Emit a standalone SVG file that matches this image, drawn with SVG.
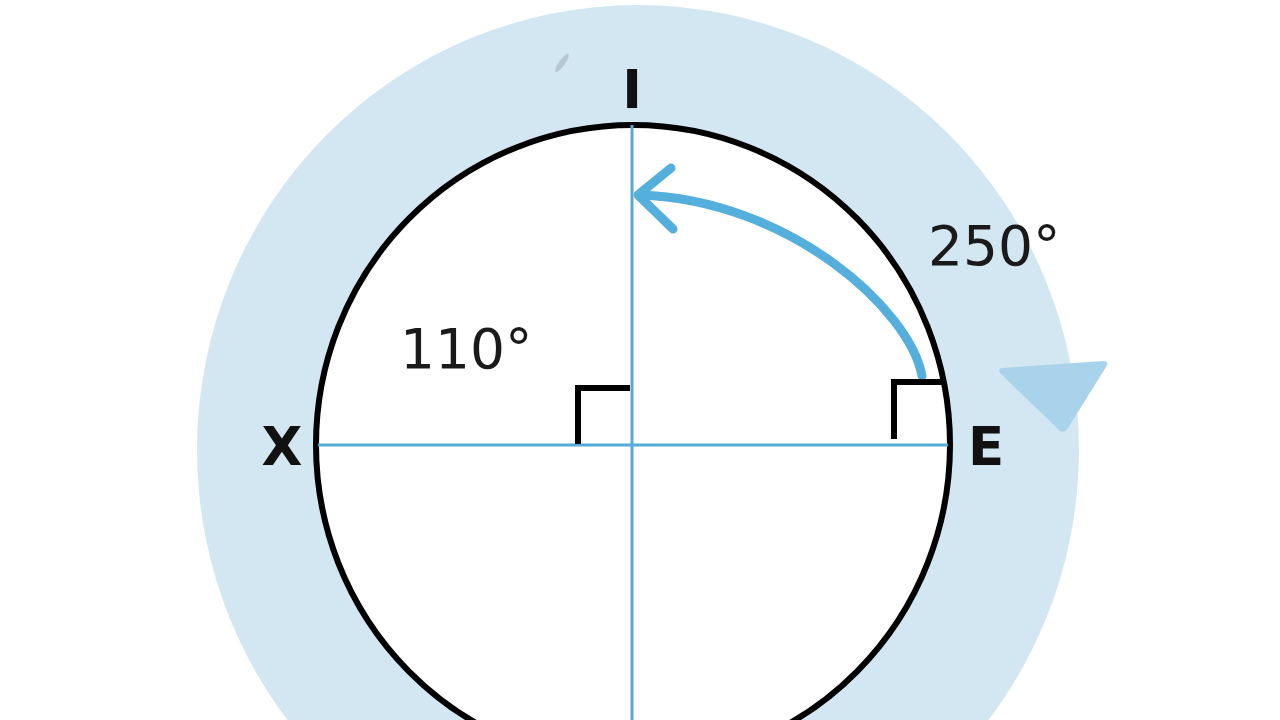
<svg xmlns="http://www.w3.org/2000/svg" width="1280" height="720" viewBox="0 0 1280 720">
  <style>
    .axis { stroke: #55abd8; stroke-width: 3; fill: none; }
    .rim { stroke: #000; stroke-width: 6; fill: #fff; }
    .mark { stroke: #000; stroke-width: 6; fill: none; stroke-linejoin: miter; }
    .flow { stroke: #55afdc; stroke-width: 9; fill: none; stroke-linecap: round; stroke-linejoin: round; }
    .lbl { font-family: "DejaVu Sans", "Liberation Sans", sans-serif; font-weight: bold; font-size: 53px; fill: #111; }
    .deg { font-family: "DejaVu Sans", "Liberation Sans", sans-serif; font-size: 55px; fill: #1a1a1a; }
  </style>
  <rect width="1280" height="720" fill="#fff"/>
  <g id="outer-ring">
    <ellipse cx="638" cy="450" rx="441" ry="445" fill="#d3e7f2"/>
    <path d="M1003 368 L1103 361 Q1110 361 1106 367 L1068 428 Q1063 435 1058 429 L1000 373 Q997 368 1003 368 Z" fill="#a9d3ea"/>
    <ellipse cx="562" cy="63" rx="3" ry="11" transform="rotate(35 562 63)" fill="#9aa9b3" opacity="0.5"/>
  </g>
  <g id="circle">
    <ellipse cx="633" cy="445" rx="317" ry="320" class="rim"/>
  </g>
  <g id="connectors">
    <line x1="318" y1="445" x2="948" y2="445" class="axis"/>
    <line x1="632" y1="125" x2="632" y2="720" class="axis"/>
    <path d="M922 376 C910 310 790 200 640 195" class="flow"/>
    <path d="M671 168 L638 195 L673 229" class="flow"/>
  </g>
  <g id="right-angles">
    <path d="M578 444 V388 H630" class="mark"/>
    <path d="M894 439 V382 H946" class="mark"/>
  </g>
  <g id="labels">
    <text x="632" y="108" text-anchor="middle" class="lbl">I</text>
    <text x="282" y="465" text-anchor="middle" class="lbl">X</text>
    <text x="986" y="465" text-anchor="middle" class="lbl">E</text>
    <text x="400" y="368" class="deg">110°</text>
    <text x="928" y="265" class="deg">250°</text>
  </g>
</svg>
